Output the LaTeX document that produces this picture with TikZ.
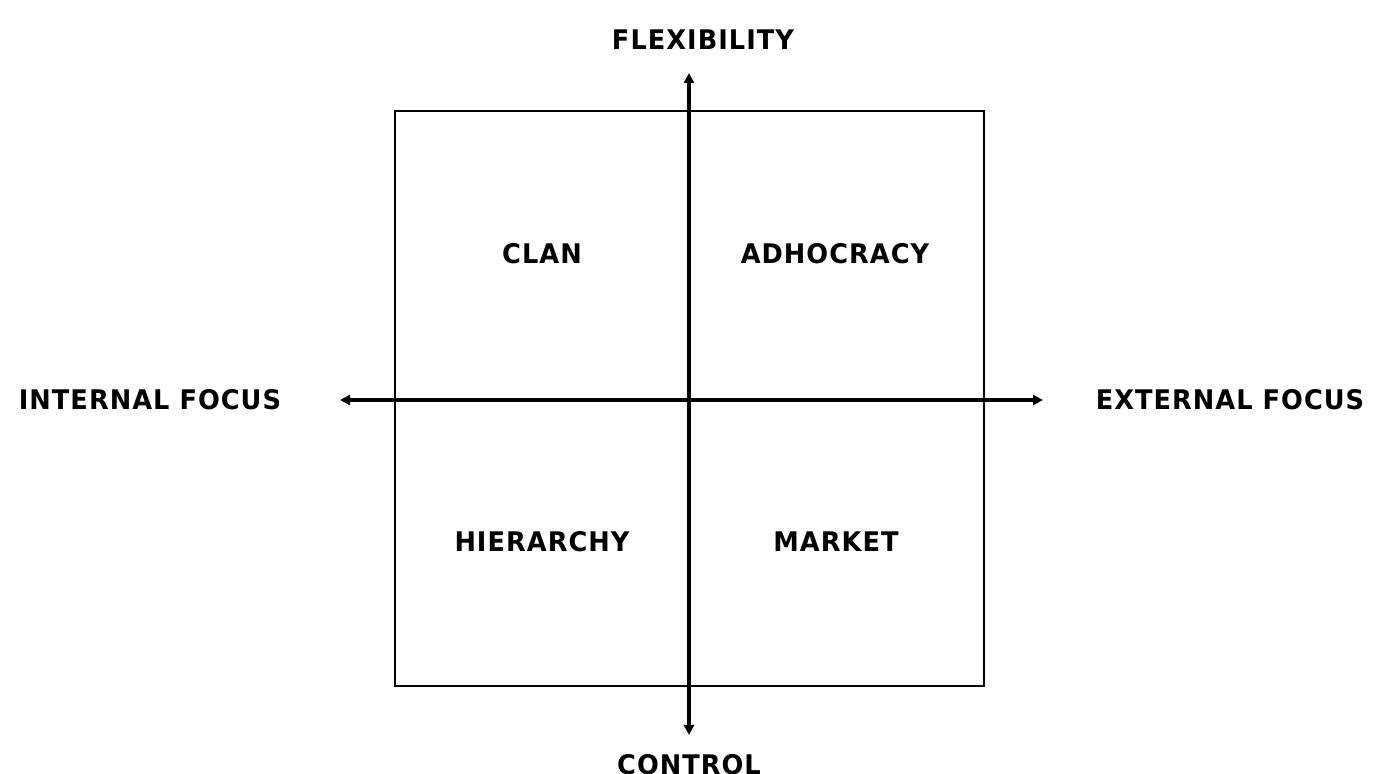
\documentclass[tikz,border=0pt]{standalone}
\usepackage{fontspec}
\setmainfont{DejaVu Sans}[LetterSpace=4]
\usetikzlibrary{arrows.meta}
\begin{document}
\begin{tikzpicture}[x=0.5pt,y=-0.5pt,
  lbl/.style={font=\bfseries\fontsize{13.5}{16}\selectfont,inner sep=0pt},
  axis/.style={line width=2pt,{Triangle[width=5pt,length=5pt]}-{Triangle[width=5pt,length=5pt]}}]
\useasboundingbox (0,0) rectangle (1383,774);
\node[draw,line width=0.8pt,minimum width=294.5pt,minimum height=287.5pt,inner sep=0pt] (box) at (689.5,398.5) {};
\coordinate (top) at (689,73);
\coordinate (bot) at (689,735);
\coordinate (lft) at (340,400);
\coordinate (rgt) at (1043,400);
\draw[axis] (top) -- (bot);
\draw[axis] (lft) -- (rgt);
\node[lbl,xscale=0.95] (flex) at (703,40) {FLEXIBILITY};
\node[lbl,xscale=0.95] (ctrl) at (689,765) {CONTROL};
\node[lbl,xscale=0.95] (int) at (150,400) {INTERNAL FOCUS};
\node[lbl,xscale=0.95] (ext) at (1230,400) {EXTERNAL FOCUS};
\node[lbl,xscale=0.95] (clan) at (542,254) {CLAN};
\node[lbl,xscale=0.95] (adh) at (835,254) {ADHOCRACY};
\node[lbl,xscale=0.95] (hier) at (542,542) {HIERARCHY};
\node[lbl,xscale=0.95] (mkt) at (836,542) {MARKET};
\end{tikzpicture}
\end{document}
